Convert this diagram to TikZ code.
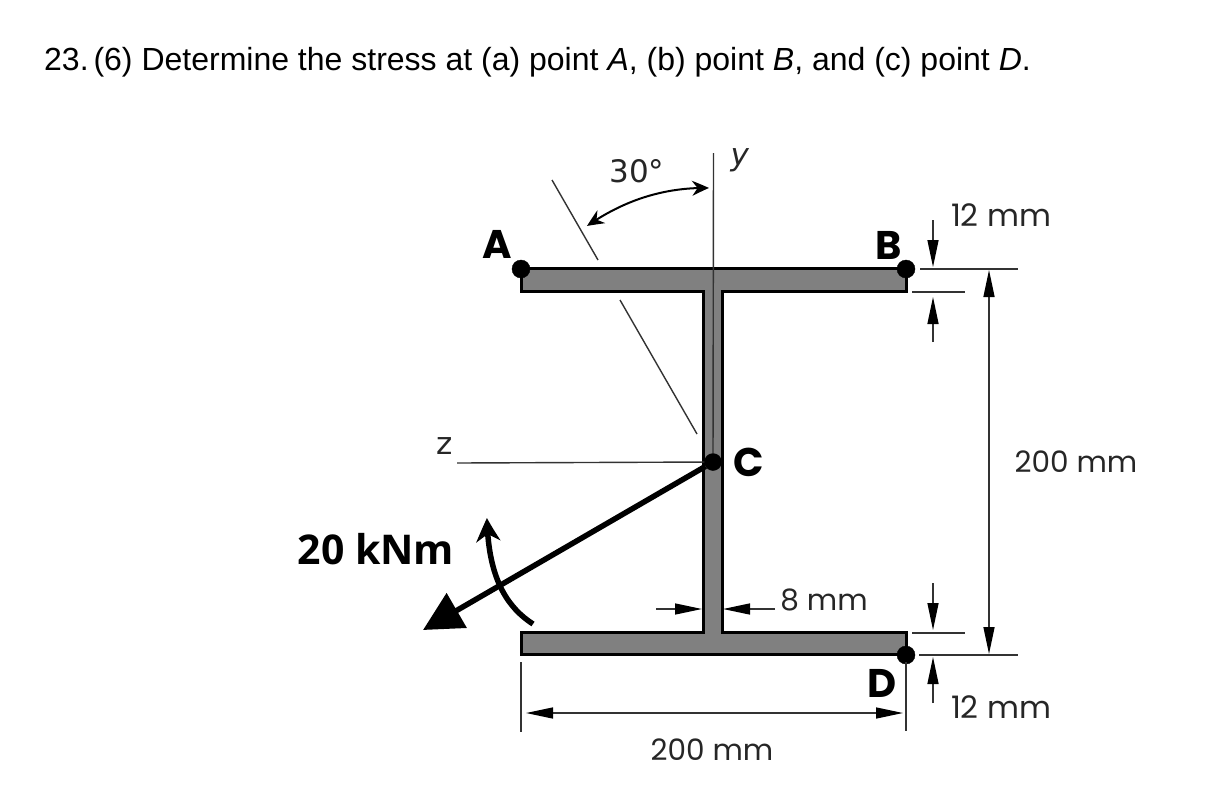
\documentclass[tikz,border=0pt]{standalone}
\usepackage{fontspec}
\setmainfont{Liberation Sans}
\newfontfamily\gothicfont{Poppins}
\newfontfamily\dejafont{DejaVu Sans}
\newfontfamily\opensfont{Open Sans}
\usetikzlibrary{arrows.meta,bending}
\begin{document}
\begin{tikzpicture}[x=1pt,y=-1pt,
	title/.style = {inner sep=0pt, anchor=west, font=\fontsize{32}{36}\selectfont},
	dimtext/.style = {inner sep=0pt, font=\gothicfont\fontsize{29.5}{34}\selectfont, text=black!85},
	flangetext/.style = {inner sep=0pt, font=\gothicfont\fontsize{31}{36}\selectfont, text=black!85},
	axistext/.style = {inner sep=0pt, font=\dejafont\fontsize{31}{36}\selectfont, text=black!85},
	pointtext/.style = {inner sep=0pt, font=\gothicfont\bfseries\fontsize{40}{46}\selectfont},
	beam/.style = {draw=black, fill=black!50, line width=3pt, line join=miter},
	point/.style = {draw=black, fill=black, circle, inner sep=0pt, minimum size=18pt},
	thin line/.style = {line width=1.4pt, draw=black!80},
	dim/.style = {thin line, -{Triangle[length=27pt,width=11pt,black]}},
	dimboth/.style = {thin line, {Triangle[length=27pt,width=11pt,black]}-{Triangle[length=27pt,width=11pt,black]}},
	load/.style = {line width=5.5pt, draw=black}]
	\useasboundingbox (0,0) rectangle (1228,784);

	\node[title] (question) at (44,62) {23.\hspace{-7pt} (6) Determine the stress at (a) point \textit{A}, (b) point \textit{B}, and (c) point \textit{D}.};

	% section
	\draw[beam] (521,268) -- (906,268) -- (906,291) -- (722,291) -- (722,632) -- (906,632)
		-- (906,654) -- (521,654) -- (521,632) -- (703,632) -- (703,291) -- (521,291) -- cycle;

	\node[point, minimum size=17pt] (c) at (713,462) {};
	\node[point] (a) at (521,269) {};
	\node[point] (b) at (906,269) {};
	\node[point] (d) at (906,655) {};

	\node[pointtext] (alabel) at (497,244) {A};
	\node[pointtext] (blabel) at (889,245) {B};
	\node[pointtext] (clabel) at (749,462) {C};
	\node[pointtext] (dlabel) at (882,683) {D};

	% axes
	\coordinate (ytop) at (713.5,153);
	\coordinate (zleft) at (457,463);
	\draw[thin line] (ytop) to (c);
	\draw[thin line] (zleft) to (c);
	\node[axistext] (ylabel) at (740,160) {\textit{y}};
	\node[axistext] (zlabel) at (445,446) {z};

	% inclined axis
	\coordinate (i1) at (552,180);
	\coordinate (i2) at (598,260);
	\coordinate (i3) at (620,300);
	\coordinate (i4) at (697,434);
	\draw[thin line] (i1) to (i2)
		(i3) to (i4);

	\coordinate (arcleft) at (587,226);
	\coordinate (arcright) at (709,188);
	\draw[line width=2pt, {Stealth[length=17pt,width=15pt,bend]}-{Stealth[length=17pt,width=15pt,bend]}]
		(arcleft) .. controls (620,203) and (660,187) .. (arcright);
	\node[axistext] (angle) at (637,171) {30°};

	% moment
	\coordinate (loadtip) at (423,630);
	\draw[load, -{Triangle[length=39pt,width=39pt]}] (c) to (loadtip);
	\coordinate (mstart) at (533,624);
	\coordinate (mtip) at (487,518);
	\draw[load, -{Stealth[length=24pt,width=24pt,bend]}] (mstart) .. controls (505,606) and (488,575) .. (mtip);
	\node[inner sep=0pt, font=\opensfont\bfseries\fontsize{41}{46}\selectfont] (moment) at (376,549) {20 kNm};

	% dimensions
	\coordinate (e1) at (521,662);
	\coordinate (e2) at (521,732);
	\coordinate (e3) at (906,662);
	\coordinate (e4) at (906,731);
	\coordinate (w1) at (526,713);
	\coordinate (w2) at (903,713);
	\draw[thin line] (e1) to (e2)
		(e3) to (e4);
	\draw[dimboth] (w1) to (w2);
	\node[dimtext] (width) at (712,750) {200 mm};

	\coordinate (t1) at (656,609);
	\coordinate (t2) at (702,609);
	\coordinate (t3) at (775,609);
	\coordinate (t4) at (723,609);
	\draw[dim] (t1) to (t2);
	\draw[dim] (t3) to (t4);
	\node[dimtext] (web) at (824,600) {8 mm};

	\coordinate (f1) at (920,269);
	\coordinate (f2) at (1018,269);
	\coordinate (f3) at (912,292);
	\coordinate (f4) at (965,292);
	\coordinate (f5) at (912,633);
	\coordinate (f6) at (965,633);
	\coordinate (f7) at (919,655);
	\coordinate (f8) at (1018,655);
	\draw[thin line] (f1) to (f2)
		(f3) to (f4)
		(f5) to (f6)
		(f7) to (f8);

	\coordinate (g1) at (933,220);
	\coordinate (g2) at (933,267);
	\coordinate (g3) at (933,342);
	\coordinate (g4) at (933,297);
	\coordinate (g5) at (933,583);
	\coordinate (g6) at (933,630);
	\coordinate (g7) at (933,703);
	\coordinate (g8) at (933,657);
	\draw[dim] (g1) to (g2);
	\draw[dim] (g3) to (g4);
	\draw[dim] (g5) to (g6);
	\draw[dim] (g7) to (g8);
	\node[flangetext] (fluxtop) at (1001,215) {12 mm};
	\node[flangetext] (fluxbot) at (1001,707) {12 mm};

	\coordinate (h1) at (989,270);
	\coordinate (h2) at (989,654);
	\draw[dimboth] (h1) to (h2);
	\node[dimtext] (height) at (1076,462) {200 mm};
\end{tikzpicture}
\end{document}
